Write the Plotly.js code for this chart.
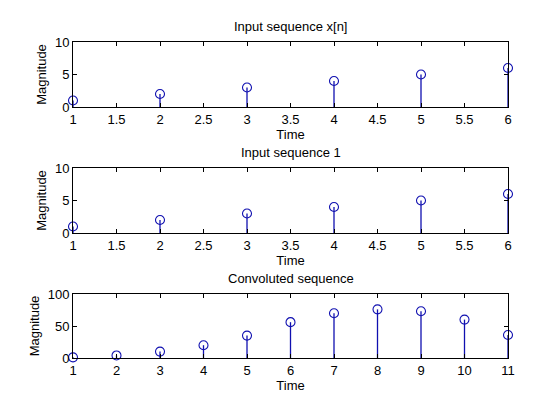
<!DOCTYPE html>
<html>
<head>
<meta charset="utf-8">
<script src="https://cdn.plot.ly/plotly-3.0.1.min.js"></script>
<style>html,body{margin:0;padding:0;background:#fff;}#plot{width:559px;height:405px;}</style>
</head>
<body>
<div id="plot"></div>
<script>
// Data
var n1 = [1, 2, 3, 4, 5, 6];
var x1 = [1, 2, 3, 4, 5, 6];
var n2 = [1, 2, 3, 4, 5, 6];
var x2 = [1, 2, 3, 4, 5, 6];
var n3 = [1, 2, 3, 4, 5, 6, 7, 8, 9, 10, 11];
var y3 = [1, 4, 10, 20, 35, 56, 70, 76, 73, 60, 36];
var titles = ['Input sequence x[n]', 'Input sequence 1', 'Convoluted sequence'];

var stemColor = '#1010b0';
var font = {family: 'Liberation Sans, Arial, sans-serif', size: 13, color: '#000'};

function stemTraces(xs, ys, xa, ya) {
  var sx = [], sy = [];
  for (var i = 0; i < xs.length; i++) {
    sx.push(xs[i], xs[i], null);
    sy.push(0, ys[i], null);
  }
  return [
    {x: sx, y: sy, xaxis: xa, yaxis: ya, mode: 'lines', type: 'scatter',
     line: {color: stemColor, width: 1.3}, hoverinfo: 'skip', cliponaxis: false},
    {x: xs, y: ys, xaxis: xa, yaxis: ya, mode: 'markers', type: 'scatter',
     marker: {symbol: 'circle-open', size: 9, color: stemColor, line: {width: 1.1, color: stemColor}},
     cliponaxis: false}
  ];
}

var data = [].concat(
  stemTraces(n1, x1, 'x', 'y'),
  stemTraces(n2, x2, 'x2', 'y2'),
  stemTraces(n3, y3, 'x3', 'y3')
);

function xax(range, dtick, anchor) {
  return {range: range, dtick: dtick, tick0: range[0], anchor: anchor,
    ticks: 'inside', ticklen: 4, tickcolor: '#000', showline: true, linecolor: '#000', linewidth: 1,
    mirror: 'ticks', showgrid: false, zeroline: false, tickfont: font,
    title: {text: 'Time', font: font, standoff: 1}};
}
function yax(range, dtick, domain, anchor) {
  return {range: range, dtick: dtick, tick0: 0, domain: domain, anchor: anchor,
    ticks: 'inside', ticklen: 4, tickcolor: '#000', showline: true, linecolor: '#000', linewidth: 1,
    mirror: 'ticks', showgrid: false, zeroline: false, tickfont: font,
    title: {text: 'Magnitude', font: font, standoff: 5}};
}

var layout = {
  width: 559, height: 405,
  margin: {l: 73, r: 51, t: 42, b: 47, pad: 0},
  paper_bgcolor: '#fff', plot_bgcolor: '#fff',
  showlegend: false,
  font: font,
  xaxis: xax([1, 6], 0.5, 'y'),
  yaxis: yax([0, 10], 5, [0.7943, 1], 'x'),
  xaxis2: xax([1, 6], 0.5, 'y2'),
  yaxis2: yax([0, 10], 5, [0.3956, 0.6013], 'x2'),
  xaxis3: xax([1, 11], 1, 'y3'),
  yaxis3: yax([0, 100], 50, [0, 0.2025], 'x3'),
  annotations: [
    {text: titles[0], xref: 'paper', yref: 'paper', x: 0.5, y: 1, yshift: 6, xanchor: 'center', yanchor: 'bottom', showarrow: false, font: font},
    {text: titles[1], xref: 'paper', yref: 'paper', x: 0.5, y: 0.6013, yshift: 6, xanchor: 'center', yanchor: 'bottom', showarrow: false, font: font},
    {text: titles[2], xref: 'paper', yref: 'paper', x: 0.5, y: 0.2025, yshift: 6, xanchor: 'center', yanchor: 'bottom', showarrow: false, font: font}
  ]
};

Plotly.newPlot('plot', data, layout, {displayModeBar: false, staticPlot: true});
</script>
</body>
</html>
